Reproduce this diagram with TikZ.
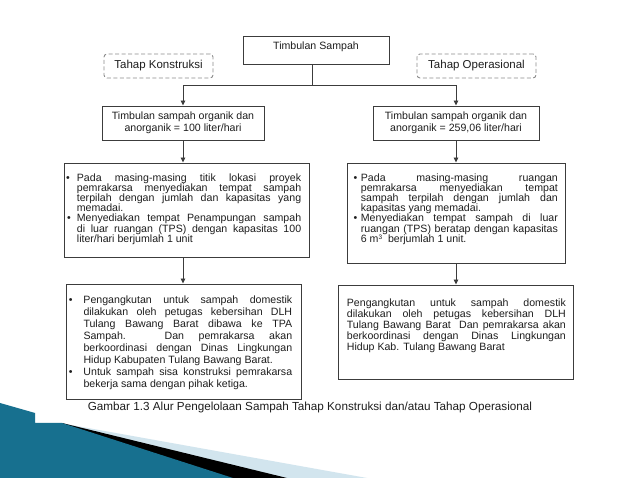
\documentclass[tikz,border=0pt]{standalone}
\usepackage{fontspec}
\setmainfont{Liberation Sans}
\usetikzlibrary{arrows.meta}

\definecolor{garis}{HTML}{3C3C3C}
\definecolor{tulisan}{HTML}{1E1E1E}
\definecolor{tosca}{HTML}{17708F}
\definecolor{toscamuda}{HTML}{52B0D0}
\definecolor{birumuda}{HTML}{D2E5EE}

\tikzset{
	kotak/.style={draw=garis, line width=0.9pt, inner sep=0pt},
	tahap/.style={draw=black!45, line width=0.9pt, dash pattern=on 4pt off 2.5pt, rounded corners=3pt, minimum height=24pt, text=tulisan, font=\fontsize{11.5}{12}\selectfont},
	isi/.style={inner sep=0pt, anchor=north west, align=justify, text=tulisan,
		execute at begin node={\tolerance=9999\hyphenpenalty=10000\exhyphenpenalty=10000}},
	panah/.style={draw=garis, line width=0.9pt, -{Triangle[length=5pt,width=4.5pt]}}
}
\def\butir#1{\par\noindent\makebox[0pt][r]{\textbullet\hspace{#1}}}
\def\kubik{\raisebox{2.6pt}{\fontsize{6.5}{7}\selectfont 3}}

\begin{document}
\begin{tikzpicture}[x=1pt, y=-1pt]
		%%%%% START %%%%%
		\useasboundingbox[fill=white] (0,0) rectangle (638,478);
		
		% hiasan pojok kiri bawah
		\fill[birumuda] (60,423) -- (367,478) -- (60,478) -- cycle;
		\fill[black] (62,423) -- (287,478) -- (60,478) -- cycle;
		\shade[left color=tosca, middle color=toscamuda, right color=tosca] (0,403) -- (35,413) -- (35,423) -- (62,423) -- (233,478) -- (0,478) -- cycle;
		
		\node[kotak, minimum width=146pt, inner ysep=3pt, text height=10.5pt, text depth=11.5pt, text=tulisan, font=\fontsize{10.6}{12}\selectfont] (sumber) at (316,50) {Timbulan Sampah};
		\node[tahap, minimum width=109pt] (konstruksi) at (158.5,66) {Tahap Konstruksi};
		\node[tahap, minimum width=119pt] (operasional) at (476.5,66) {Tahap Operasional};
		
		\node[kotak, minimum width=162pt, minimum height=34pt, align=center, text=tulisan, font=\fontsize{10.6}{11.6}\selectfont] (org1) at (183,123) {Timbulan sampah organik dan\\anorganik = 100 liter/hari};
		\node[kotak, minimum width=166pt, minimum height=34pt, align=center, text=tulisan, font=\fontsize{10.6}{11.6}\selectfont] (org2) at (456,123) {Timbulan sampah organik dan\\anorganik = 259,06 liter/hari};
		
		\coordinate (cabang) at (312,85);
		\draw[garis, line width=0.9pt] (sumber.south -| cabang) -- (cabang);
		\draw[panah] (cabang) -| (org1.north);
		\draw[panah] (cabang) -| (org2.north);
		
		% wadah sampah
		\node[kotak, minimum width=245pt, minimum height=94pt] (wadah1) at (186.5,210) {};
		\node[kotak, minimum width=218pt, minimum height=100pt] (wadah2) at (456,213) {};
		\node[isi, text width=224.3pt, font=\fontsize{10.6}{10.2}\selectfont] at (76.7,170.8) {%
			\butir{7pt}Pada masing-masing titik lokasi proyek\linebreak pemrakarsa menyediakan tempat sampah\linebreak terpilah dengan jumlah dan kapasitas yang\linebreak memadai.
			\butir{6pt}Menyediakan tempat Penampungan sampah\linebreak di luar ruangan (TPS) dengan kapasitas 100\linebreak liter/hari berjumlah 1 unit};
		\node[isi, text width=197pt, font=\fontsize{10.6}{10.2}\selectfont] at (360.7,170.8) {%
			\butir{3.5pt}Pada masing-masing ruangan\linebreak pemrakarsa menyediakan tempat\linebreak sampah terpilah dengan jumlah dan\linebreak kapasitas yang memadai.
			\butir{3.5pt}Menyediakan tempat sampah di luar\linebreak ruangan (TPS) beratap dengan kapasitas\linebreak 6 m\kubik\ \ berjumlah 1 unit.};
		
		\draw[panah] (org1.south) -- (org1.south |- wadah1.north);
		\draw[panah] (org2.south) -- (org2.south |- wadah2.north);
		
		% pengangkutan
		\node[kotak, minimum width=235pt, minimum height=115pt] (angkut1) at (183.5,341.5) {};
		\node[kotak, minimum width=235pt, minimum height=94pt] (angkut2) at (455.5,332) {};
		\node[isi, text width=208.7pt, font=\fontsize{10.6}{11.9}\selectfont] at (83.3,291.8) {%
			\butir{10.8pt}Pengangkutan untuk sampah domestik\linebreak dilakukan oleh petugas kebersihan DLH\linebreak Tulang Bawang Barat dibawa ke TPA\linebreak Sampah. Dan pemrakarsa akan\linebreak berkoordinasi dengan Dinas Lingkungan\linebreak Hidup Kabupaten Tulang Bawang Barat.
			\butir{10.8pt}Untuk sampah sisa konstruksi pemrakarsa\linebreak bekerja sama dengan pihak ketiga.};
		\node[isi, text width=219pt, font=\fontsize{10.6}{10.8}\selectfont] at (346.7,299) {%
			\noindent Pengangkutan untuk sampah domestik\linebreak dilakukan oleh petugas kebersihan DLH\linebreak Tulang Bawang Barat\ \ Dan pemrakarsa akan\linebreak berkoordinasi dengan Dinas Lingkungan\linebreak Hidup Kab. Tulang Bawang Barat};
		
		\draw[panah] (org1.south |- wadah1.south) -- (org1.south |- angkut1.north);
		\draw[panah] (org2.south |- wadah2.south) -- (org2.south |- angkut2.north);
		
		\node[text=tulisan, font=\fontsize{11.7}{13}\selectfont] (judul) at (310,407) {Gambar 1.3 Alur Pengelolaan Sampah Tahap Konstruksi dan/atau Tahap Operasional};
		%%%%% END %%%%%
\end{tikzpicture}
\end{document}
